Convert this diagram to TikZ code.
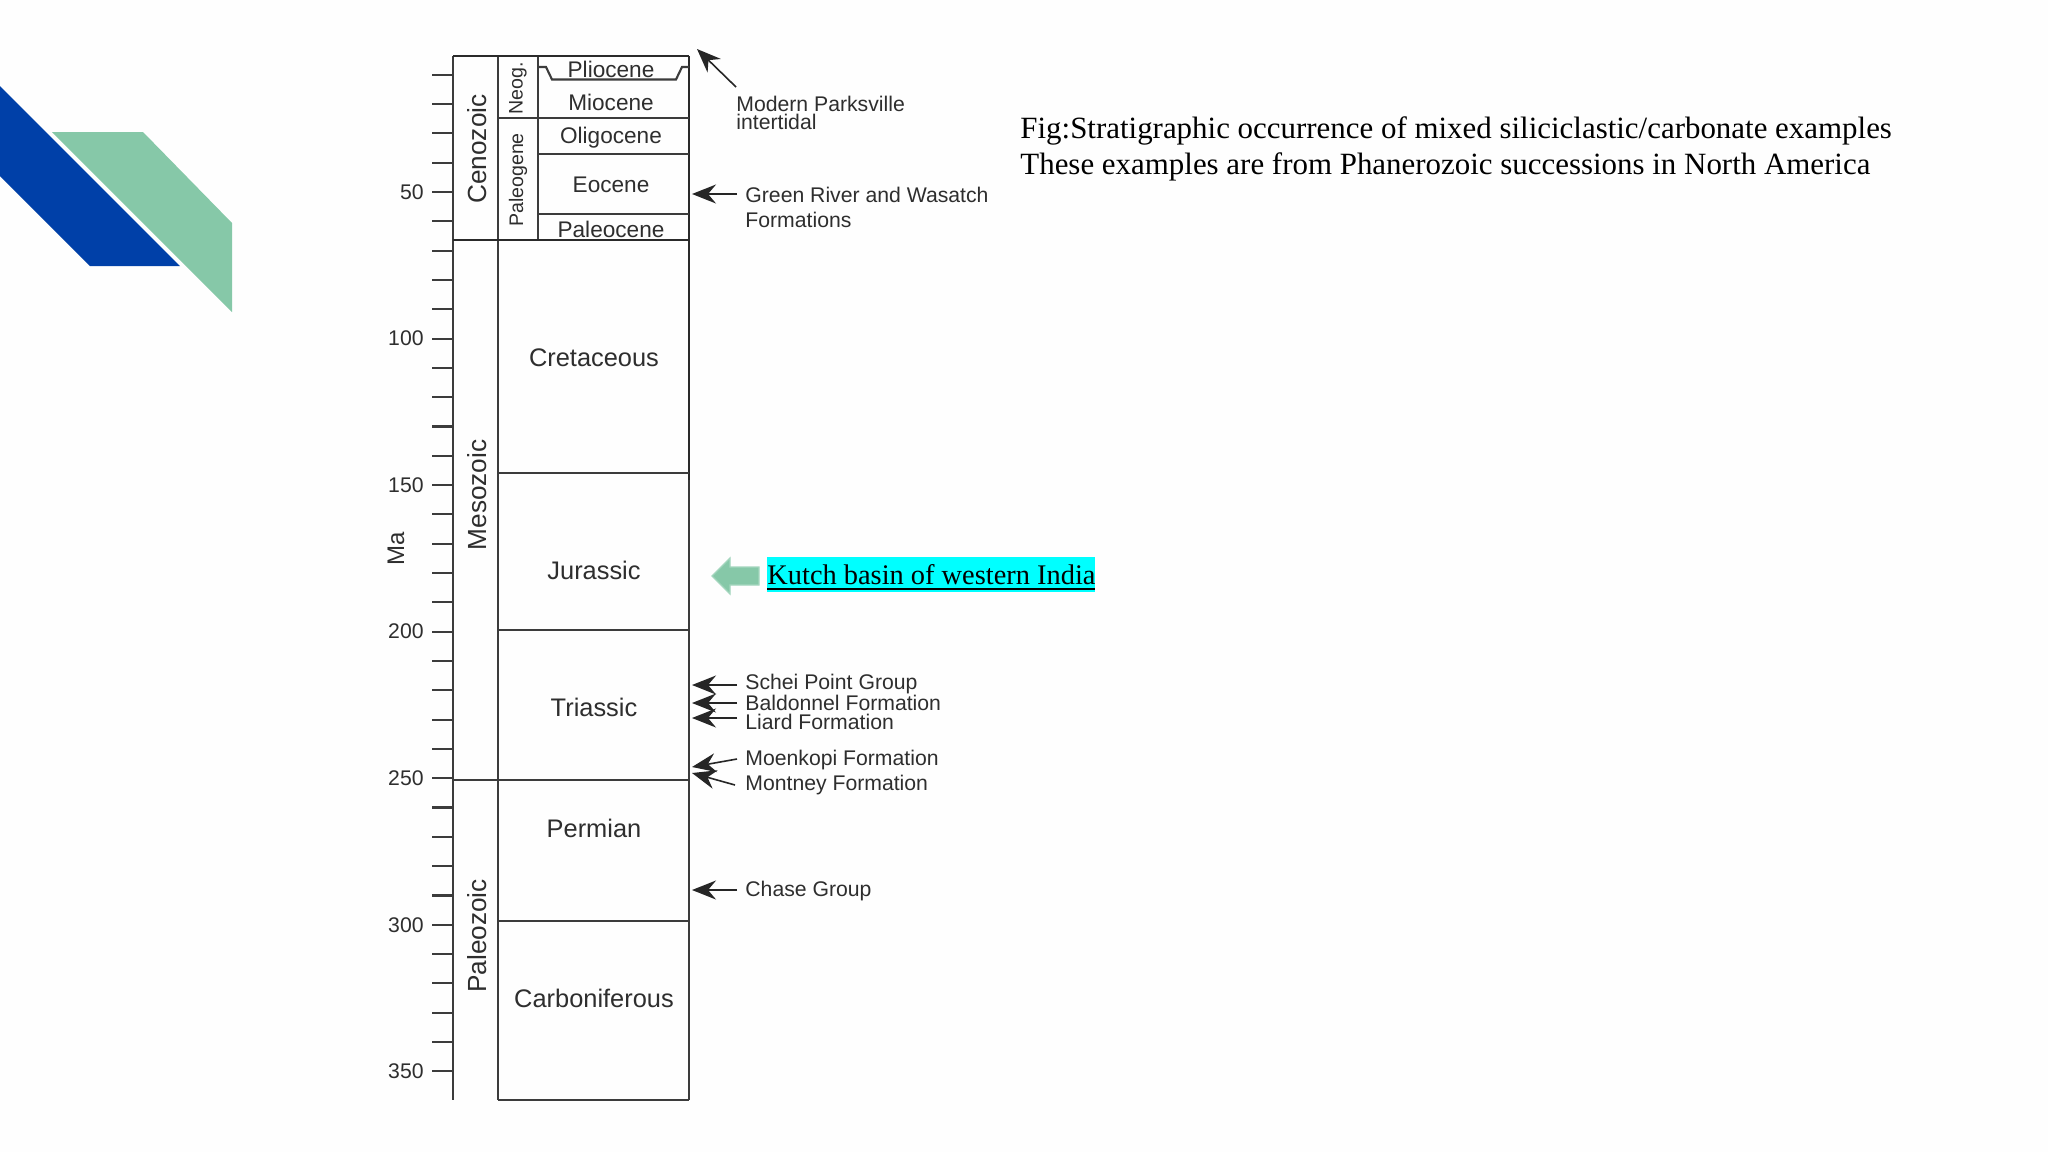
\documentclass[tikz,border=0pt]{standalone}
\usepackage{fontspec}
\setmainfont{Liberation Serif}
\newfontfamily\arialf{Liberation Sans}
\usetikzlibrary{arrows.meta}
\definecolor{ink}{HTML}{2E2E2E}
\definecolor{rule}{HTML}{3C3C3C}
\definecolor{bluebar}{HTML}{0040A8}
\definecolor{greenbar}{HTML}{86C8A8}
\definecolor{paper}{HTML}{FEFEFE}
\definecolor{hilite}{HTML}{00FFFF}
\tikzset{
  x=0.5pt,y=-0.5pt,
  lab/.style={font=\arialf\fontsize{#1}{#1}\selectfont,text=ink,inner sep=0pt},
  lab/.default=11.3,
  note/.style={lab=10.6,anchor=west,align=left},
  colline/.style={draw=rule,line width=1.05pt},
  heavy line/.style={draw=rule!70!black,line width=1.3pt},
  ptr/.style={draw=black!85,line width=0.8pt,-{Stealth[length=12pt,width=9.5pt,inset=4pt]}},
}
\begin{document}
\begin{tikzpicture}
\useasboundingbox[fill=paper] (0,0) rectangle (2048,1152);
% corner decoration
\fill[bluebar] (0,86) -- (0,176) -- (90,266) -- (180,266) -- cycle;
\fill[greenbar] (52,132) -- (143,132) -- (232,223) -- (232,312) -- cycle;
% time axis ticks
\foreach \i in {1,...,35}{
  \draw[colline] (432,{192+(\i-5)*29.31}) -- (453,{192+(\i-5)*29.31});
}
\foreach \v/\i in {50/5,100/10,150/15,200/20,250/25,300/30,350/35}{
  \node[lab=10.6,anchor=east] (age\v) at (424,{192+(\i-5)*29.31}) {\v};
}
\node[lab=12,rotate=90] (ma) at (396,549) {Ma};
% columns
\draw[colline] (453,56) -- (453,1100);
\draw[colline] (498,56) -- (498,1100);
\draw[colline] (538,56) -- (538,240);
\draw[heavy line] (689,56) -- (689,480);
\draw[colline] (689,480) -- (689,1100);
\draw[heavy line] (453,56) -- (689,56);
\draw[colline] (498,1100) -- (689,1100);
\draw[heavy line] (453,240) -- (689,240);
\draw[colline] (498,118) -- (689,118);
\draw[colline] (538,154) -- (689,154);
\draw[colline] (538,214) -- (689,214);
\draw[colline] (538,67) -- (546,67) -- (552,79.5) -- (676,79.5) -- (682,67) -- (689,67);
\draw[colline] (498,473) -- (689,473);
\draw[colline] (498,630) -- (689,630);
\draw[colline] (453,780) -- (689,780);
\draw[colline] (498,921) -- (689,921);
% era labels
\node[lab=13.1,rotate=90] (cenozoic) at (477,149) {Cenozoic};
\node[lab=13.1,rotate=90] (mesozoic) at (477,495) {Mesozoic};
\node[lab=13.1,rotate=90] (paleozoic) at (477,936) {Paleozoic};
\node[lab=9.8,rotate=90] (neog) at (518,88) {Neog.};
\node[lab=9.8,rotate=90] (paleogene) at (518,180) {Paleogene};
% periods
\node[lab] (pliocene) at (611,69) {Pliocene};
\node[lab] (miocene) at (611,102) {Miocene};
\node[lab] (oligocene) at (611,138) {Oligocene};
\node[lab] (eocene) at (611,185) {Eocene};
\node[lab] (paleocene) at (611,229) {Paleocene};
\node[lab=12.7] (cretaceous) at (594,358) {Cretaceous};
\node[lab=12.7] (jurassic) at (594,570) {Jurassic};
\node[lab=12.7] (triassic) at (594,707) {Triassic};
\node[lab=12.7] (permian) at (594,828) {Permian};
\node[lab=12.7] (carboniferous) at (594,998) {Carboniferous};
% annotations
\node[anchor=north west,align=left,inner sep=0pt,text=ink,font=\arialf\fontsize{10.6}{9}\selectfont] (parksville) at (736,96) {Modern Parksville\\intertidal};
\node[anchor=north west,align=left,inner sep=0pt,text=ink,font=\arialf\fontsize{10.6}{12.5}\selectfont] (greenriver) at (745,187) {Green River and Wasatch\\Formations};
\node[note] (schei) at (745,684) {Schei Point Group};
\node[note] (baldonnel) at (745,703) {Baldonnel Formation};
\node[note] (liard) at (745,722) {Liard Formation};
\node[note] (moenkopi) at (745,760) {Moenkopi Formation};
\node[note] (montney) at (745,785) {Montney Formation};
\node[note] (chase) at (745,891) {Chase Group};
\coordinate (tipA) at (697,49);
\coordinate (tailA) at (736,87);
\coordinate (tailB) at (737,194);
\coordinate (tipB) at (692,194);
\coordinate (tipC) at (692,685);
\coordinate (tailC) at (737,685);
\coordinate (tipD) at (692,703);
\coordinate (tailD) at (737,703);
\coordinate (tipE) at (692,718);
\coordinate (tailE) at (737,718);
\coordinate (tipF) at (692,767);
\coordinate (tailF) at (737,759);
\coordinate (tipG) at (692,773);
\coordinate (tailG) at (735,785);
\coordinate (tipH) at (692,890);
\coordinate (tailH) at (737,890);
\draw[ptr] (tailA) -- (tipA);
\draw[ptr] (tailB) -- (tipB);
\draw[ptr] (tailC) -- (tipC);
\draw[ptr] (tailD) -- (tipD);
\draw[ptr] (tailE) -- (tipE);
\draw[ptr] (tailF) -- (tipF);
\draw[ptr] (tailG) -- (tipG);
\draw[ptr] (tailH) -- (tipH);
% Kutch callout
\fill[hilite] (767,557) rectangle (1095,592);
\node[font=\fontsize{14.2}{14.2}\selectfont,text=black,inner sep=0pt,anchor=base west] (kutch) at (767,584) {Kutch basin of western India};
\draw[black,line width=1.1pt] (767,589) -- (1095,589);
\fill[greenbar,draw=greenbar!75!white,line width=0.6pt] (712,576) -- (730,558) -- (730,567) -- (759,567) -- (759,585) -- (730,585) -- (730,594) -- cycle;
% caption
\node[font=\fontsize{15.46}{18.3}\selectfont,text=black,inner sep=0pt,anchor=north west,align=left] (caption) at (1020,116) {Fig:Stratigraphic occurrence of mixed siliciclastic/carbonate examples\\These examples are from Phanerozoic successions in North America};
\end{tikzpicture}
\end{document}
